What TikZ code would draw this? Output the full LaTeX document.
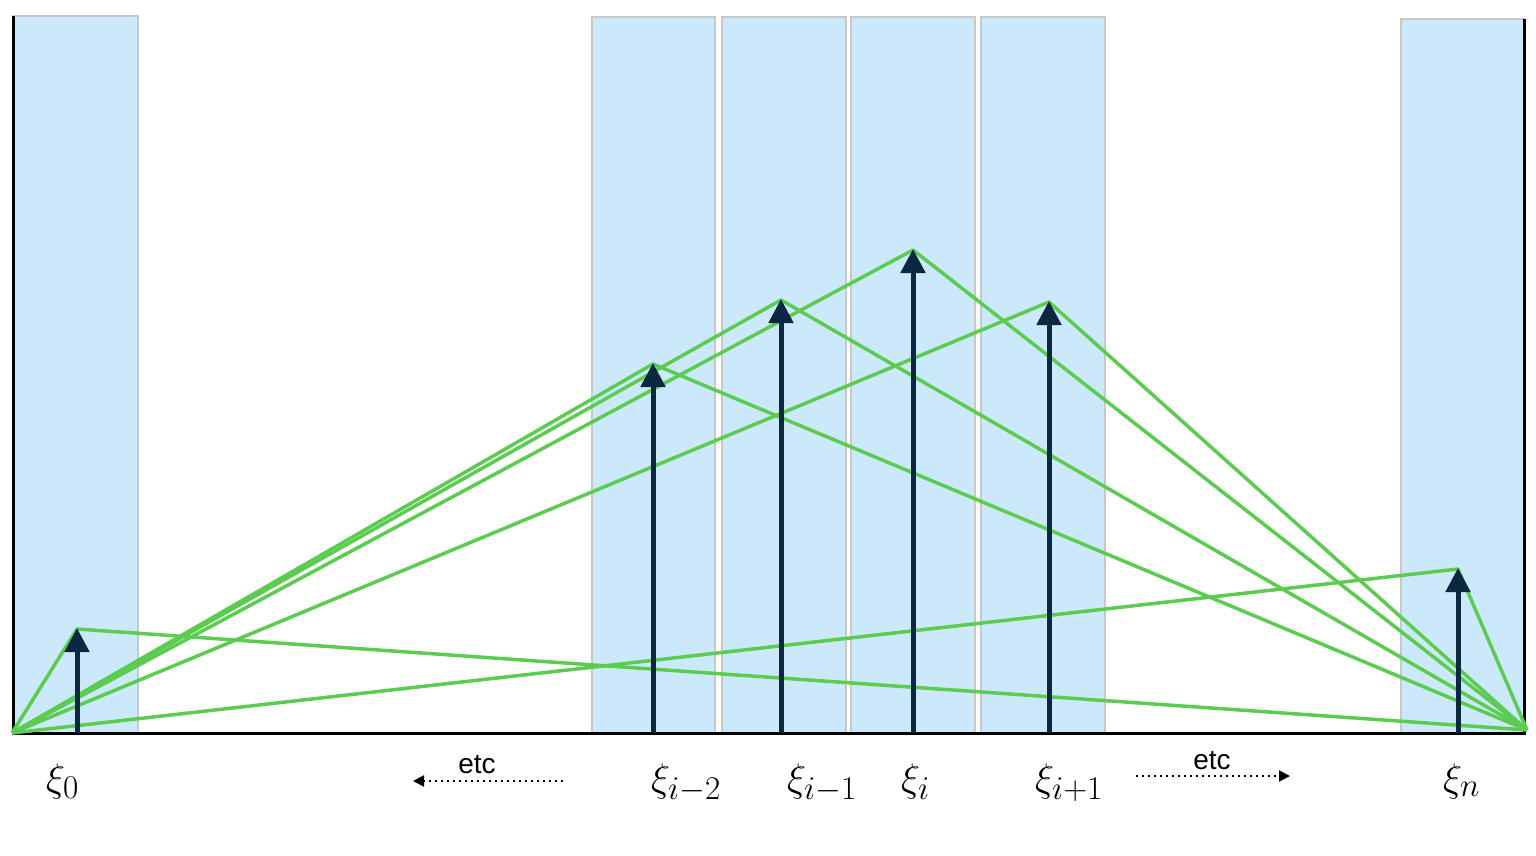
\documentclass[tikz,border=0pt]{standalone}
\usepackage{graphicx}
\usepackage{fontspec}
\newfontfamily\etcfont{Liberation Sans}
\usetikzlibrary{arrows.meta}
\definecolor{boxfill}{RGB}{204,233,252}
\definecolor{boxline}{RGB}{200,200,200}
\definecolor{greenline}{RGB}{92,204,80}
\definecolor{navy}{RGB}{11,40,64}
\newcommand{\bigxi}[1]{\scalebox{1.6}{\Huge$#1$}}
\tikzset{
  bar/.style={fill=boxfill,draw=boxline,line width=2pt},
  hat/.style={greenline,line width=3.5pt,line join=round},
  spike/.style={navy,line width=5pt,-{Triangle[width=24pt,length=24pt]},shorten >=-1pt},
  xilabel/.style={anchor=base west,inner sep=0pt},
  etclabel/.style={inner sep=0pt,font=\etcfont\fontsize{28}{32}\selectfont},
  etcarrow/.style={black,line width=2pt,dash pattern=on 2pt off 4pt,-{Triangle[width=11pt,length=11pt]}},
  axis/.style={black,line width=3pt}
}
\begin{document}
\begin{tikzpicture}[x=1pt,y=-1pt]
\useasboundingbox (0,0) rectangle (1536,856);
% bars
\draw[bar] (13,16) rectangle (138,733);
\draw[bar] (592,17) rectangle (715,733);
\draw[bar] (722,17) rectangle (846,733);
\draw[bar] (851,17) rectangle (975,733);
\draw[bar] (981,17) rectangle (1105,733);
\draw[bar] (1401,19) rectangle (1524,733);
% axes
\draw[axis] (13,16) -- (13,734.5);
\draw[axis] (1524,19) -- (1524,734.5);
\draw[axis] (11.5,733) -- (1526,733);
% key points
\coordinate (L) at (12,733);
\coordinate (R) at (1527,730);
\coordinate (t0) at (77,629);
\coordinate (t1) at (653,364);
\coordinate (t2) at (781,300);
\coordinate (t3) at (913,250);
\coordinate (t4) at (1049,302);
\coordinate (t5) at (1458,569);
\coordinate (b0) at (77,733);
\coordinate (b1) at (653,733);
\coordinate (b2) at (781,733);
\coordinate (b3) at (913,733);
\coordinate (b4) at (1049,733);
\coordinate (b5) at (1458,733);
% hat lines
\foreach \t in {t0,t1,t2,t3,t4,t5}{
  \draw[hat] (L) -- (\t) -- (R);
}
% spikes
\foreach \i in {0,...,5}{
  \draw[spike] (b\i) -- (t\i);
}
% labels
\node[xilabel] (x0) at (46,791) {\bigxi{\xi_0}};
\node[xilabel] (x1) at (651,791) {\bigxi{\xi_{i-2}}};
\node[xilabel] (x2) at (787,791) {\bigxi{\xi_{i-1}}};
\node[xilabel] (x3) at (901,791) {\bigxi{\xi_i}};
\node[xilabel] (x4) at (1035,791) {\bigxi{\xi_{i+1}}};
\node[xilabel] (x5) at (1443,791) {\bigxi{\xi_n}};
% etc
\node[etclabel] (e1) at (477,765) {etc};
\coordinate (e1a) at (563,781);
\coordinate (e1b) at (413,781);
\draw[etcarrow] (e1a) -- (e1b);
\node[etclabel] (e2) at (1212,761) {etc};
\coordinate (e2a) at (1136,776);
\coordinate (e2b) at (1290,776);
\draw[etcarrow] (e2a) -- (e2b);
\end{tikzpicture}
\end{document}
